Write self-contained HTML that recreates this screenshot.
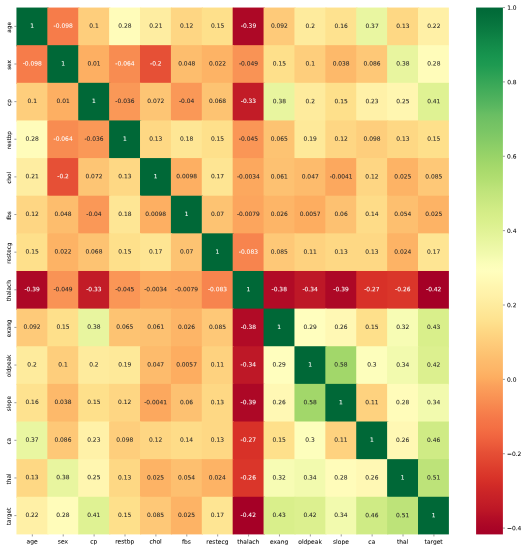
<!DOCTYPE html>
<html lang="en"><head><meta charset="utf-8"><title>Correlation heatmap</title>
<style>html,body{margin:0;padding:0;background:#fff}svg{display:block}text{text-rendering:geometricPrecision;font-family:"DejaVu Sans","Liberation Sans",sans-serif;font-size:5.95px}.a{text-anchor:middle}.w{fill:#fff;stroke:#fff}.d{fill:#262626;stroke:#262626}.t{fill:#000;stroke:#000}text{stroke-width:0.05px}.v{font-size:5.72px}</style></head><body>
<svg width="525" height="550" viewBox="0 0 525 550">
<rect width="525" height="550" fill="#fff"/>
<g>
<rect x="16.45" y="7.55" width="32.09" height="38.83" fill="#006837"/>
<rect x="47.34" y="7.55" width="32.09" height="38.83" fill="#f67c4a"/>
<rect x="78.23" y="7.55" width="32.09" height="38.83" fill="#fece7c"/>
<rect x="109.12" y="7.55" width="32.09" height="38.83" fill="#fffcba"/>
<rect x="140.01" y="7.55" width="32.09" height="38.83" fill="#feeda1"/>
<rect x="170.90" y="7.55" width="32.09" height="38.83" fill="#fed683"/>
<rect x="201.79" y="7.55" width="32.09" height="38.83" fill="#fee08b"/>
<rect x="232.67" y="7.55" width="32.09" height="38.83" fill="#ad0826"/>
<rect x="263.56" y="7.55" width="32.09" height="38.83" fill="#feca79"/>
<rect x="294.45" y="7.55" width="32.09" height="38.83" fill="#feeb9d"/>
<rect x="325.34" y="7.55" width="32.09" height="38.83" fill="#fee28f"/>
<rect x="356.23" y="7.55" width="32.09" height="38.83" fill="#e9f6a1"/>
<rect x="387.12" y="7.55" width="32.09" height="38.83" fill="#fed884"/>
<rect x="418.01" y="7.55" width="30.89" height="38.83" fill="#fff0a6"/>
<rect x="16.45" y="45.18" width="32.09" height="38.83" fill="#f67c4a"/>
<rect x="47.34" y="45.18" width="32.09" height="38.83" fill="#006837"/>
<rect x="78.23" y="45.18" width="32.09" height="38.83" fill="#fdaf62"/>
<rect x="109.12" y="45.18" width="32.09" height="38.83" fill="#f88c51"/>
<rect x="140.01" y="45.18" width="32.09" height="38.83" fill="#e65036"/>
<rect x="170.90" y="45.18" width="32.09" height="38.83" fill="#fdbd6d"/>
<rect x="201.79" y="45.18" width="32.09" height="38.83" fill="#fdb365"/>
<rect x="232.67" y="45.18" width="32.09" height="38.83" fill="#f99355"/>
<rect x="263.56" y="45.18" width="32.09" height="38.83" fill="#fee08b"/>
<rect x="294.45" y="45.18" width="32.09" height="38.83" fill="#fece7c"/>
<rect x="325.34" y="45.18" width="32.09" height="38.83" fill="#fdb96a"/>
<rect x="356.23" y="45.18" width="32.09" height="38.83" fill="#fec877"/>
<rect x="387.12" y="45.18" width="32.09" height="38.83" fill="#e8f59f"/>
<rect x="418.01" y="45.18" width="30.89" height="38.83" fill="#fffcba"/>
<rect x="16.45" y="82.81" width="32.09" height="38.83" fill="#fece7c"/>
<rect x="47.34" y="82.81" width="32.09" height="38.83" fill="#fdaf62"/>
<rect x="78.23" y="82.81" width="32.09" height="38.83" fill="#006837"/>
<rect x="109.12" y="82.81" width="32.09" height="38.83" fill="#fa9857"/>
<rect x="140.01" y="82.81" width="32.09" height="38.83" fill="#fdc574"/>
<rect x="170.90" y="82.81" width="32.09" height="38.83" fill="#fa9857"/>
<rect x="201.79" y="82.81" width="32.09" height="38.83" fill="#fdc372"/>
<rect x="232.67" y="82.81" width="32.09" height="38.83" fill="#c21c27"/>
<rect x="263.56" y="82.81" width="32.09" height="38.83" fill="#e8f59f"/>
<rect x="294.45" y="82.81" width="32.09" height="38.83" fill="#feeb9d"/>
<rect x="325.34" y="82.81" width="32.09" height="38.83" fill="#fee08b"/>
<rect x="356.23" y="82.81" width="32.09" height="38.83" fill="#fff1a8"/>
<rect x="387.12" y="82.81" width="32.09" height="38.83" fill="#fff6b0"/>
<rect x="418.01" y="82.81" width="30.89" height="38.83" fill="#dff293"/>
<rect x="16.45" y="120.45" width="32.09" height="38.83" fill="#fffcba"/>
<rect x="47.34" y="120.45" width="32.09" height="38.83" fill="#f88c51"/>
<rect x="78.23" y="120.45" width="32.09" height="38.83" fill="#fa9857"/>
<rect x="109.12" y="120.45" width="32.09" height="38.83" fill="#006837"/>
<rect x="140.01" y="120.45" width="32.09" height="38.83" fill="#fed884"/>
<rect x="170.90" y="120.45" width="32.09" height="38.83" fill="#fee695"/>
<rect x="201.79" y="120.45" width="32.09" height="38.83" fill="#fee08b"/>
<rect x="232.67" y="120.45" width="32.09" height="38.83" fill="#fa9656"/>
<rect x="263.56" y="120.45" width="32.09" height="38.83" fill="#fdc372"/>
<rect x="294.45" y="120.45" width="32.09" height="38.83" fill="#fee999"/>
<rect x="325.34" y="120.45" width="32.09" height="38.83" fill="#fed683"/>
<rect x="356.23" y="120.45" width="32.09" height="38.83" fill="#fece7c"/>
<rect x="387.12" y="120.45" width="32.09" height="38.83" fill="#fed884"/>
<rect x="418.01" y="120.45" width="30.89" height="38.83" fill="#fee08b"/>
<rect x="16.45" y="158.08" width="32.09" height="38.83" fill="#feeda1"/>
<rect x="47.34" y="158.08" width="32.09" height="38.83" fill="#e65036"/>
<rect x="78.23" y="158.08" width="32.09" height="38.83" fill="#fdc574"/>
<rect x="109.12" y="158.08" width="32.09" height="38.83" fill="#fed884"/>
<rect x="140.01" y="158.08" width="32.09" height="38.83" fill="#006837"/>
<rect x="170.90" y="158.08" width="32.09" height="38.83" fill="#fdaf62"/>
<rect x="201.79" y="158.08" width="32.09" height="38.83" fill="#fee593"/>
<rect x="232.67" y="158.08" width="32.09" height="38.83" fill="#fca85e"/>
<rect x="263.56" y="158.08" width="32.09" height="38.83" fill="#fdc171"/>
<rect x="294.45" y="158.08" width="32.09" height="38.83" fill="#fdbb6c"/>
<rect x="325.34" y="158.08" width="32.09" height="38.83" fill="#fca85e"/>
<rect x="356.23" y="158.08" width="32.09" height="38.83" fill="#fed683"/>
<rect x="387.12" y="158.08" width="32.09" height="38.83" fill="#fdb365"/>
<rect x="418.01" y="158.08" width="30.89" height="38.83" fill="#fec877"/>
<rect x="16.45" y="195.71" width="32.09" height="38.83" fill="#fed683"/>
<rect x="47.34" y="195.71" width="32.09" height="38.83" fill="#fdbd6d"/>
<rect x="78.23" y="195.71" width="32.09" height="38.83" fill="#fa9857"/>
<rect x="109.12" y="195.71" width="32.09" height="38.83" fill="#fee695"/>
<rect x="140.01" y="195.71" width="32.09" height="38.83" fill="#fdaf62"/>
<rect x="170.90" y="195.71" width="32.09" height="38.83" fill="#006837"/>
<rect x="201.79" y="195.71" width="32.09" height="38.83" fill="#fdc372"/>
<rect x="232.67" y="195.71" width="32.09" height="38.83" fill="#fca55d"/>
<rect x="263.56" y="195.71" width="32.09" height="38.83" fill="#fdb567"/>
<rect x="294.45" y="195.71" width="32.09" height="38.83" fill="#fdad60"/>
<rect x="325.34" y="195.71" width="32.09" height="38.83" fill="#fdc171"/>
<rect x="356.23" y="195.71" width="32.09" height="38.83" fill="#fedc88"/>
<rect x="387.12" y="195.71" width="32.09" height="38.83" fill="#fdbf6f"/>
<rect x="418.01" y="195.71" width="30.89" height="38.83" fill="#fdb365"/>
<rect x="16.45" y="233.34" width="32.09" height="38.83" fill="#fee08b"/>
<rect x="47.34" y="233.34" width="32.09" height="38.83" fill="#fdb365"/>
<rect x="78.23" y="233.34" width="32.09" height="38.83" fill="#fdc372"/>
<rect x="109.12" y="233.34" width="32.09" height="38.83" fill="#fee08b"/>
<rect x="140.01" y="233.34" width="32.09" height="38.83" fill="#fee593"/>
<rect x="170.90" y="233.34" width="32.09" height="38.83" fill="#fdc372"/>
<rect x="201.79" y="233.34" width="32.09" height="38.83" fill="#006837"/>
<rect x="232.67" y="233.34" width="32.09" height="38.83" fill="#f7844e"/>
<rect x="263.56" y="233.34" width="32.09" height="38.83" fill="#fec877"/>
<rect x="294.45" y="233.34" width="32.09" height="38.83" fill="#fed27f"/>
<rect x="325.34" y="233.34" width="32.09" height="38.83" fill="#fed884"/>
<rect x="356.23" y="233.34" width="32.09" height="38.83" fill="#fed884"/>
<rect x="387.12" y="233.34" width="32.09" height="38.83" fill="#fdb365"/>
<rect x="418.01" y="233.34" width="30.89" height="38.83" fill="#fee593"/>
<rect x="16.45" y="270.98" width="32.09" height="38.83" fill="#ad0826"/>
<rect x="47.34" y="270.98" width="32.09" height="38.83" fill="#f99355"/>
<rect x="78.23" y="270.98" width="32.09" height="38.83" fill="#c21c27"/>
<rect x="109.12" y="270.98" width="32.09" height="38.83" fill="#fa9656"/>
<rect x="140.01" y="270.98" width="32.09" height="38.83" fill="#fca85e"/>
<rect x="170.90" y="270.98" width="32.09" height="38.83" fill="#fca55d"/>
<rect x="201.79" y="270.98" width="32.09" height="38.83" fill="#f7844e"/>
<rect x="232.67" y="270.98" width="32.09" height="38.83" fill="#006837"/>
<rect x="263.56" y="270.98" width="32.09" height="38.83" fill="#b10b26"/>
<rect x="294.45" y="270.98" width="32.09" height="38.83" fill="#be1827"/>
<rect x="325.34" y="270.98" width="32.09" height="38.83" fill="#ad0826"/>
<rect x="356.23" y="270.98" width="32.09" height="38.83" fill="#d83128"/>
<rect x="387.12" y="270.98" width="32.09" height="38.83" fill="#da362a"/>
<rect x="418.01" y="270.98" width="30.89" height="38.83" fill="#a50026"/>
<rect x="16.45" y="308.61" width="32.09" height="38.83" fill="#feca79"/>
<rect x="47.34" y="308.61" width="32.09" height="38.83" fill="#fee08b"/>
<rect x="78.23" y="308.61" width="32.09" height="38.83" fill="#e8f59f"/>
<rect x="109.12" y="308.61" width="32.09" height="38.83" fill="#fdc372"/>
<rect x="140.01" y="308.61" width="32.09" height="38.83" fill="#fdc171"/>
<rect x="170.90" y="308.61" width="32.09" height="38.83" fill="#fdb567"/>
<rect x="201.79" y="308.61" width="32.09" height="38.83" fill="#fec877"/>
<rect x="232.67" y="308.61" width="32.09" height="38.83" fill="#b10b26"/>
<rect x="263.56" y="308.61" width="32.09" height="38.83" fill="#006837"/>
<rect x="294.45" y="308.61" width="32.09" height="38.83" fill="#fffebe"/>
<rect x="325.34" y="308.61" width="32.09" height="38.83" fill="#fff8b4"/>
<rect x="356.23" y="308.61" width="32.09" height="38.83" fill="#fee08b"/>
<rect x="387.12" y="308.61" width="32.09" height="38.83" fill="#f7fcb4"/>
<rect x="418.01" y="308.61" width="30.89" height="38.83" fill="#d9ef8b"/>
<rect x="16.45" y="346.24" width="32.09" height="38.83" fill="#feeb9d"/>
<rect x="47.34" y="346.24" width="32.09" height="38.83" fill="#fece7c"/>
<rect x="78.23" y="346.24" width="32.09" height="38.83" fill="#feeb9d"/>
<rect x="109.12" y="346.24" width="32.09" height="38.83" fill="#fee999"/>
<rect x="140.01" y="346.24" width="32.09" height="38.83" fill="#fdbb6c"/>
<rect x="170.90" y="346.24" width="32.09" height="38.83" fill="#fdad60"/>
<rect x="201.79" y="346.24" width="32.09" height="38.83" fill="#fed27f"/>
<rect x="232.67" y="346.24" width="32.09" height="38.83" fill="#be1827"/>
<rect x="263.56" y="346.24" width="32.09" height="38.83" fill="#fffebe"/>
<rect x="294.45" y="346.24" width="32.09" height="38.83" fill="#006837"/>
<rect x="325.34" y="346.24" width="32.09" height="38.83" fill="#a2d76a"/>
<rect x="356.23" y="346.24" width="32.09" height="38.83" fill="#fdfebc"/>
<rect x="387.12" y="346.24" width="32.09" height="38.83" fill="#f2faae"/>
<rect x="418.01" y="346.24" width="30.89" height="38.83" fill="#dcf08f"/>
<rect x="16.45" y="383.87" width="32.09" height="38.83" fill="#fee28f"/>
<rect x="47.34" y="383.87" width="32.09" height="38.83" fill="#fdb96a"/>
<rect x="78.23" y="383.87" width="32.09" height="38.83" fill="#fee08b"/>
<rect x="109.12" y="383.87" width="32.09" height="38.83" fill="#fed683"/>
<rect x="140.01" y="383.87" width="32.09" height="38.83" fill="#fca85e"/>
<rect x="170.90" y="383.87" width="32.09" height="38.83" fill="#fdc171"/>
<rect x="201.79" y="383.87" width="32.09" height="38.83" fill="#fed884"/>
<rect x="232.67" y="383.87" width="32.09" height="38.83" fill="#ad0826"/>
<rect x="263.56" y="383.87" width="32.09" height="38.83" fill="#fff8b4"/>
<rect x="294.45" y="383.87" width="32.09" height="38.83" fill="#a2d76a"/>
<rect x="325.34" y="383.87" width="32.09" height="38.83" fill="#006837"/>
<rect x="356.23" y="383.87" width="32.09" height="38.83" fill="#fed27f"/>
<rect x="387.12" y="383.87" width="32.09" height="38.83" fill="#fffcba"/>
<rect x="418.01" y="383.87" width="30.89" height="38.83" fill="#f2faae"/>
<rect x="16.45" y="421.50" width="32.09" height="38.83" fill="#e9f6a1"/>
<rect x="47.34" y="421.50" width="32.09" height="38.83" fill="#fec877"/>
<rect x="78.23" y="421.50" width="32.09" height="38.83" fill="#fff1a8"/>
<rect x="109.12" y="421.50" width="32.09" height="38.83" fill="#fece7c"/>
<rect x="140.01" y="421.50" width="32.09" height="38.83" fill="#fed683"/>
<rect x="170.90" y="421.50" width="32.09" height="38.83" fill="#fedc88"/>
<rect x="201.79" y="421.50" width="32.09" height="38.83" fill="#fed884"/>
<rect x="232.67" y="421.50" width="32.09" height="38.83" fill="#d83128"/>
<rect x="263.56" y="421.50" width="32.09" height="38.83" fill="#fee08b"/>
<rect x="294.45" y="421.50" width="32.09" height="38.83" fill="#fdfebc"/>
<rect x="325.34" y="421.50" width="32.09" height="38.83" fill="#fed27f"/>
<rect x="356.23" y="421.50" width="32.09" height="38.83" fill="#006837"/>
<rect x="387.12" y="421.50" width="32.09" height="38.83" fill="#fff8b4"/>
<rect x="418.01" y="421.50" width="30.89" height="38.83" fill="#cfeb85"/>
<rect x="16.45" y="459.14" width="32.09" height="38.83" fill="#fed884"/>
<rect x="47.34" y="459.14" width="32.09" height="38.83" fill="#e8f59f"/>
<rect x="78.23" y="459.14" width="32.09" height="38.83" fill="#fff6b0"/>
<rect x="109.12" y="459.14" width="32.09" height="38.83" fill="#fed884"/>
<rect x="140.01" y="459.14" width="32.09" height="38.83" fill="#fdb365"/>
<rect x="170.90" y="459.14" width="32.09" height="38.83" fill="#fdbf6f"/>
<rect x="201.79" y="459.14" width="32.09" height="38.83" fill="#fdb365"/>
<rect x="232.67" y="459.14" width="32.09" height="38.83" fill="#da362a"/>
<rect x="263.56" y="459.14" width="32.09" height="38.83" fill="#f7fcb4"/>
<rect x="294.45" y="459.14" width="32.09" height="38.83" fill="#f2faae"/>
<rect x="325.34" y="459.14" width="32.09" height="38.83" fill="#fffcba"/>
<rect x="356.23" y="459.14" width="32.09" height="38.83" fill="#fff8b4"/>
<rect x="387.12" y="459.14" width="32.09" height="38.83" fill="#006837"/>
<rect x="418.01" y="459.14" width="30.89" height="38.83" fill="#bde379"/>
<rect x="16.45" y="496.77" width="32.09" height="37.63" fill="#fff0a6"/>
<rect x="47.34" y="496.77" width="32.09" height="37.63" fill="#fffcba"/>
<rect x="78.23" y="496.77" width="32.09" height="37.63" fill="#dff293"/>
<rect x="109.12" y="496.77" width="32.09" height="37.63" fill="#fee08b"/>
<rect x="140.01" y="496.77" width="32.09" height="37.63" fill="#fec877"/>
<rect x="170.90" y="496.77" width="32.09" height="37.63" fill="#fdb365"/>
<rect x="201.79" y="496.77" width="32.09" height="37.63" fill="#fee593"/>
<rect x="232.67" y="496.77" width="32.09" height="37.63" fill="#a50026"/>
<rect x="263.56" y="496.77" width="32.09" height="37.63" fill="#d9ef8b"/>
<rect x="294.45" y="496.77" width="32.09" height="37.63" fill="#dcf08f"/>
<rect x="325.34" y="496.77" width="32.09" height="37.63" fill="#f2faae"/>
<rect x="356.23" y="496.77" width="32.09" height="37.63" fill="#cfeb85"/>
<rect x="387.12" y="496.77" width="32.09" height="37.63" fill="#bde379"/>
<rect x="418.01" y="496.77" width="30.89" height="37.63" fill="#006837"/>
</g>
<g class="a" transform="rotate(0.03 262 275)">
<text class="w" x="32.14" y="25.97" dy="0.32em">1</text>
<text class="w" x="63.03" y="25.97" dy="0.32em">-0.098</text>
<text class="d" x="93.92" y="25.97" dy="0.32em">0.1</text>
<text class="d" x="124.81" y="25.97" dy="0.32em">0.28</text>
<text class="d" x="155.70" y="25.97" dy="0.32em">0.21</text>
<text class="d" x="186.59" y="25.97" dy="0.32em">0.12</text>
<text class="d" x="217.48" y="25.97" dy="0.32em">0.15</text>
<text class="w" x="248.37" y="25.97" dy="0.32em">-0.39</text>
<text class="d" x="279.26" y="25.97" dy="0.32em">0.092</text>
<text class="d" x="310.15" y="25.97" dy="0.32em">0.2</text>
<text class="d" x="341.04" y="25.97" dy="0.32em">0.16</text>
<text class="d" x="371.93" y="25.97" dy="0.32em">0.37</text>
<text class="d" x="402.82" y="25.97" dy="0.32em">0.13</text>
<text class="d" x="433.71" y="25.97" dy="0.32em">0.22</text>
<text class="w" x="32.14" y="63.60" dy="0.32em">-0.098</text>
<text class="w" x="63.03" y="63.60" dy="0.32em">1</text>
<text class="d" x="93.92" y="63.60" dy="0.32em">0.01</text>
<text class="w" x="124.81" y="63.60" dy="0.32em">-0.064</text>
<text class="w" x="155.70" y="63.60" dy="0.32em">-0.2</text>
<text class="d" x="186.59" y="63.60" dy="0.32em">0.048</text>
<text class="d" x="217.48" y="63.60" dy="0.32em">0.022</text>
<text class="d" x="248.37" y="63.60" dy="0.32em">-0.049</text>
<text class="d" x="279.26" y="63.60" dy="0.32em">0.15</text>
<text class="d" x="310.15" y="63.60" dy="0.32em">0.1</text>
<text class="d" x="341.04" y="63.60" dy="0.32em">0.038</text>
<text class="d" x="371.93" y="63.60" dy="0.32em">0.086</text>
<text class="d" x="402.82" y="63.60" dy="0.32em">0.38</text>
<text class="d" x="433.71" y="63.60" dy="0.32em">0.28</text>
<text class="d" x="32.14" y="101.23" dy="0.32em">0.1</text>
<text class="d" x="63.03" y="101.23" dy="0.32em">0.01</text>
<text class="w" x="93.92" y="101.23" dy="0.32em">1</text>
<text class="d" x="124.81" y="101.23" dy="0.32em">-0.036</text>
<text class="d" x="155.70" y="101.23" dy="0.32em">0.072</text>
<text class="d" x="186.59" y="101.23" dy="0.32em">-0.04</text>
<text class="d" x="217.48" y="101.23" dy="0.32em">0.068</text>
<text class="w" x="248.37" y="101.23" dy="0.32em">-0.33</text>
<text class="d" x="279.26" y="101.23" dy="0.32em">0.38</text>
<text class="d" x="310.15" y="101.23" dy="0.32em">0.2</text>
<text class="d" x="341.04" y="101.23" dy="0.32em">0.15</text>
<text class="d" x="371.93" y="101.23" dy="0.32em">0.23</text>
<text class="d" x="402.82" y="101.23" dy="0.32em">0.25</text>
<text class="d" x="433.71" y="101.23" dy="0.32em">0.41</text>
<text class="d" x="32.14" y="138.86" dy="0.32em">0.28</text>
<text class="w" x="63.03" y="138.86" dy="0.32em">-0.064</text>
<text class="d" x="93.92" y="138.86" dy="0.32em">-0.036</text>
<text class="w" x="124.81" y="138.86" dy="0.32em">1</text>
<text class="d" x="155.70" y="138.86" dy="0.32em">0.13</text>
<text class="d" x="186.59" y="138.86" dy="0.32em">0.18</text>
<text class="d" x="217.48" y="138.86" dy="0.32em">0.15</text>
<text class="d" x="248.37" y="138.86" dy="0.32em">-0.045</text>
<text class="d" x="279.26" y="138.86" dy="0.32em">0.065</text>
<text class="d" x="310.15" y="138.86" dy="0.32em">0.19</text>
<text class="d" x="341.04" y="138.86" dy="0.32em">0.12</text>
<text class="d" x="371.93" y="138.86" dy="0.32em">0.098</text>
<text class="d" x="402.82" y="138.86" dy="0.32em">0.13</text>
<text class="d" x="433.71" y="138.86" dy="0.32em">0.15</text>
<text class="d" x="32.14" y="176.49" dy="0.32em">0.21</text>
<text class="w" x="63.03" y="176.49" dy="0.32em">-0.2</text>
<text class="d" x="93.92" y="176.49" dy="0.32em">0.072</text>
<text class="d" x="124.81" y="176.49" dy="0.32em">0.13</text>
<text class="w" x="155.70" y="176.49" dy="0.32em">1</text>
<text class="d" x="186.59" y="176.49" dy="0.32em">0.0098</text>
<text class="d" x="217.48" y="176.49" dy="0.32em">0.17</text>
<text class="d" x="248.37" y="176.49" dy="0.32em">-0.0034</text>
<text class="d" x="279.26" y="176.49" dy="0.32em">0.061</text>
<text class="d" x="310.15" y="176.49" dy="0.32em">0.047</text>
<text class="d" x="341.04" y="176.49" dy="0.32em">-0.0041</text>
<text class="d" x="371.93" y="176.49" dy="0.32em">0.12</text>
<text class="d" x="402.82" y="176.49" dy="0.32em">0.025</text>
<text class="d" x="433.71" y="176.49" dy="0.32em">0.085</text>
<text class="d" x="32.14" y="214.13" dy="0.32em">0.12</text>
<text class="d" x="63.03" y="214.13" dy="0.32em">0.048</text>
<text class="d" x="93.92" y="214.13" dy="0.32em">-0.04</text>
<text class="d" x="124.81" y="214.13" dy="0.32em">0.18</text>
<text class="d" x="155.70" y="214.13" dy="0.32em">0.0098</text>
<text class="w" x="186.59" y="214.13" dy="0.32em">1</text>
<text class="d" x="217.48" y="214.13" dy="0.32em">0.07</text>
<text class="d" x="248.37" y="214.13" dy="0.32em">-0.0079</text>
<text class="d" x="279.26" y="214.13" dy="0.32em">0.026</text>
<text class="d" x="310.15" y="214.13" dy="0.32em">0.0057</text>
<text class="d" x="341.04" y="214.13" dy="0.32em">0.06</text>
<text class="d" x="371.93" y="214.13" dy="0.32em">0.14</text>
<text class="d" x="402.82" y="214.13" dy="0.32em">0.054</text>
<text class="d" x="433.71" y="214.13" dy="0.32em">0.025</text>
<text class="d" x="32.14" y="251.76" dy="0.32em">0.15</text>
<text class="d" x="63.03" y="251.76" dy="0.32em">0.022</text>
<text class="d" x="93.92" y="251.76" dy="0.32em">0.068</text>
<text class="d" x="124.81" y="251.76" dy="0.32em">0.15</text>
<text class="d" x="155.70" y="251.76" dy="0.32em">0.17</text>
<text class="d" x="186.59" y="251.76" dy="0.32em">0.07</text>
<text class="w" x="217.48" y="251.76" dy="0.32em">1</text>
<text class="w" x="248.37" y="251.76" dy="0.32em">-0.083</text>
<text class="d" x="279.26" y="251.76" dy="0.32em">0.085</text>
<text class="d" x="310.15" y="251.76" dy="0.32em">0.11</text>
<text class="d" x="341.04" y="251.76" dy="0.32em">0.13</text>
<text class="d" x="371.93" y="251.76" dy="0.32em">0.13</text>
<text class="d" x="402.82" y="251.76" dy="0.32em">0.024</text>
<text class="d" x="433.71" y="251.76" dy="0.32em">0.17</text>
<text class="w" x="32.14" y="289.39" dy="0.32em">-0.39</text>
<text class="d" x="63.03" y="289.39" dy="0.32em">-0.049</text>
<text class="w" x="93.92" y="289.39" dy="0.32em">-0.33</text>
<text class="d" x="124.81" y="289.39" dy="0.32em">-0.045</text>
<text class="d" x="155.70" y="289.39" dy="0.32em">-0.0034</text>
<text class="d" x="186.59" y="289.39" dy="0.32em">-0.0079</text>
<text class="w" x="217.48" y="289.39" dy="0.32em">-0.083</text>
<text class="w" x="248.37" y="289.39" dy="0.32em">1</text>
<text class="w" x="279.26" y="289.39" dy="0.32em">-0.38</text>
<text class="w" x="310.15" y="289.39" dy="0.32em">-0.34</text>
<text class="w" x="341.04" y="289.39" dy="0.32em">-0.39</text>
<text class="w" x="371.93" y="289.39" dy="0.32em">-0.27</text>
<text class="w" x="402.82" y="289.39" dy="0.32em">-0.26</text>
<text class="w" x="433.71" y="289.39" dy="0.32em">-0.42</text>
<text class="d" x="32.14" y="327.02" dy="0.32em">0.092</text>
<text class="d" x="63.03" y="327.02" dy="0.32em">0.15</text>
<text class="d" x="93.92" y="327.02" dy="0.32em">0.38</text>
<text class="d" x="124.81" y="327.02" dy="0.32em">0.065</text>
<text class="d" x="155.70" y="327.02" dy="0.32em">0.061</text>
<text class="d" x="186.59" y="327.02" dy="0.32em">0.026</text>
<text class="d" x="217.48" y="327.02" dy="0.32em">0.085</text>
<text class="w" x="248.37" y="327.02" dy="0.32em">-0.38</text>
<text class="w" x="279.26" y="327.02" dy="0.32em">1</text>
<text class="d" x="310.15" y="327.02" dy="0.32em">0.29</text>
<text class="d" x="341.04" y="327.02" dy="0.32em">0.26</text>
<text class="d" x="371.93" y="327.02" dy="0.32em">0.15</text>
<text class="d" x="402.82" y="327.02" dy="0.32em">0.32</text>
<text class="d" x="433.71" y="327.02" dy="0.32em">0.43</text>
<text class="d" x="32.14" y="364.66" dy="0.32em">0.2</text>
<text class="d" x="63.03" y="364.66" dy="0.32em">0.1</text>
<text class="d" x="93.92" y="364.66" dy="0.32em">0.2</text>
<text class="d" x="124.81" y="364.66" dy="0.32em">0.19</text>
<text class="d" x="155.70" y="364.66" dy="0.32em">0.047</text>
<text class="d" x="186.59" y="364.66" dy="0.32em">0.0057</text>
<text class="d" x="217.48" y="364.66" dy="0.32em">0.11</text>
<text class="w" x="248.37" y="364.66" dy="0.32em">-0.34</text>
<text class="d" x="279.26" y="364.66" dy="0.32em">0.29</text>
<text class="w" x="310.15" y="364.66" dy="0.32em">1</text>
<text class="d" x="341.04" y="364.66" dy="0.32em">0.58</text>
<text class="d" x="371.93" y="364.66" dy="0.32em">0.3</text>
<text class="d" x="402.82" y="364.66" dy="0.32em">0.34</text>
<text class="d" x="433.71" y="364.66" dy="0.32em">0.42</text>
<text class="d" x="32.14" y="402.29" dy="0.32em">0.16</text>
<text class="d" x="63.03" y="402.29" dy="0.32em">0.038</text>
<text class="d" x="93.92" y="402.29" dy="0.32em">0.15</text>
<text class="d" x="124.81" y="402.29" dy="0.32em">0.12</text>
<text class="d" x="155.70" y="402.29" dy="0.32em">-0.0041</text>
<text class="d" x="186.59" y="402.29" dy="0.32em">0.06</text>
<text class="d" x="217.48" y="402.29" dy="0.32em">0.13</text>
<text class="w" x="248.37" y="402.29" dy="0.32em">-0.39</text>
<text class="d" x="279.26" y="402.29" dy="0.32em">0.26</text>
<text class="d" x="310.15" y="402.29" dy="0.32em">0.58</text>
<text class="w" x="341.04" y="402.29" dy="0.32em">1</text>
<text class="d" x="371.93" y="402.29" dy="0.32em">0.11</text>
<text class="d" x="402.82" y="402.29" dy="0.32em">0.28</text>
<text class="d" x="433.71" y="402.29" dy="0.32em">0.34</text>
<text class="d" x="32.14" y="439.92" dy="0.32em">0.37</text>
<text class="d" x="63.03" y="439.92" dy="0.32em">0.086</text>
<text class="d" x="93.92" y="439.92" dy="0.32em">0.23</text>
<text class="d" x="124.81" y="439.92" dy="0.32em">0.098</text>
<text class="d" x="155.70" y="439.92" dy="0.32em">0.12</text>
<text class="d" x="186.59" y="439.92" dy="0.32em">0.14</text>
<text class="d" x="217.48" y="439.92" dy="0.32em">0.13</text>
<text class="w" x="248.37" y="439.92" dy="0.32em">-0.27</text>
<text class="d" x="279.26" y="439.92" dy="0.32em">0.15</text>
<text class="d" x="310.15" y="439.92" dy="0.32em">0.3</text>
<text class="d" x="341.04" y="439.92" dy="0.32em">0.11</text>
<text class="w" x="371.93" y="439.92" dy="0.32em">1</text>
<text class="d" x="402.82" y="439.92" dy="0.32em">0.26</text>
<text class="d" x="433.71" y="439.92" dy="0.32em">0.46</text>
<text class="d" x="32.14" y="477.55" dy="0.32em">0.13</text>
<text class="d" x="63.03" y="477.55" dy="0.32em">0.38</text>
<text class="d" x="93.92" y="477.55" dy="0.32em">0.25</text>
<text class="d" x="124.81" y="477.55" dy="0.32em">0.13</text>
<text class="d" x="155.70" y="477.55" dy="0.32em">0.025</text>
<text class="d" x="186.59" y="477.55" dy="0.32em">0.054</text>
<text class="d" x="217.48" y="477.55" dy="0.32em">0.024</text>
<text class="w" x="248.37" y="477.55" dy="0.32em">-0.26</text>
<text class="d" x="279.26" y="477.55" dy="0.32em">0.32</text>
<text class="d" x="310.15" y="477.55" dy="0.32em">0.34</text>
<text class="d" x="341.04" y="477.55" dy="0.32em">0.28</text>
<text class="d" x="371.93" y="477.55" dy="0.32em">0.26</text>
<text class="w" x="402.82" y="477.55" dy="0.32em">1</text>
<text class="d" x="433.71" y="477.55" dy="0.32em">0.51</text>
<text class="d" x="32.14" y="515.18" dy="0.32em">0.22</text>
<text class="d" x="63.03" y="515.18" dy="0.32em">0.28</text>
<text class="d" x="93.92" y="515.18" dy="0.32em">0.41</text>
<text class="d" x="124.81" y="515.18" dy="0.32em">0.15</text>
<text class="d" x="155.70" y="515.18" dy="0.32em">0.085</text>
<text class="d" x="186.59" y="515.18" dy="0.32em">0.025</text>
<text class="d" x="217.48" y="515.18" dy="0.32em">0.17</text>
<text class="w" x="248.37" y="515.18" dy="0.32em">-0.42</text>
<text class="d" x="279.26" y="515.18" dy="0.32em">0.43</text>
<text class="d" x="310.15" y="515.18" dy="0.32em">0.42</text>
<text class="d" x="341.04" y="515.18" dy="0.32em">0.34</text>
<text class="d" x="371.93" y="515.18" dy="0.32em">0.46</text>
<text class="d" x="402.82" y="515.18" dy="0.32em">0.51</text>
<text class="w" x="433.71" y="515.18" dy="0.32em">1</text>
</g>
<g stroke="#222" stroke-width="0.45">
<line x1="32.34" y1="534.40" x2="32.34" y2="536.48"/>
<line x1="14.37" y1="26.37" x2="16.45" y2="26.37"/>
<line x1="63.23" y1="534.40" x2="63.23" y2="536.48"/>
<line x1="14.37" y1="64.00" x2="16.45" y2="64.00"/>
<line x1="94.12" y1="534.40" x2="94.12" y2="536.48"/>
<line x1="14.37" y1="101.63" x2="16.45" y2="101.63"/>
<line x1="125.01" y1="534.40" x2="125.01" y2="536.48"/>
<line x1="14.37" y1="139.26" x2="16.45" y2="139.26"/>
<line x1="155.90" y1="534.40" x2="155.90" y2="536.48"/>
<line x1="14.37" y1="176.89" x2="16.45" y2="176.89"/>
<line x1="186.79" y1="534.40" x2="186.79" y2="536.48"/>
<line x1="14.37" y1="214.53" x2="16.45" y2="214.53"/>
<line x1="217.68" y1="534.40" x2="217.68" y2="536.48"/>
<line x1="14.37" y1="252.16" x2="16.45" y2="252.16"/>
<line x1="248.57" y1="534.40" x2="248.57" y2="536.48"/>
<line x1="14.37" y1="289.79" x2="16.45" y2="289.79"/>
<line x1="279.46" y1="534.40" x2="279.46" y2="536.48"/>
<line x1="14.37" y1="327.42" x2="16.45" y2="327.42"/>
<line x1="310.35" y1="534.40" x2="310.35" y2="536.48"/>
<line x1="14.37" y1="365.06" x2="16.45" y2="365.06"/>
<line x1="341.24" y1="534.40" x2="341.24" y2="536.48"/>
<line x1="14.37" y1="402.69" x2="16.45" y2="402.69"/>
<line x1="372.13" y1="534.40" x2="372.13" y2="536.48"/>
<line x1="14.37" y1="440.32" x2="16.45" y2="440.32"/>
<line x1="403.02" y1="534.40" x2="403.02" y2="536.48"/>
<line x1="14.37" y1="477.95" x2="16.45" y2="477.95"/>
<line x1="433.91" y1="534.40" x2="433.91" y2="536.48"/>
<line x1="14.37" y1="515.58" x2="16.45" y2="515.58"/>
</g>
<g class="a t" transform="rotate(0.03 262 275)">
<text x="32.19" y="543.68">age</text>
<text x="63.08" y="543.68">sex</text>
<text x="93.97" y="543.68">cp</text>
<text x="124.86" y="543.68">restbp</text>
<text x="155.75" y="543.68">chol</text>
<text x="186.64" y="543.68">fbs</text>
<text x="217.53" y="543.68">restecg</text>
<text x="248.42" y="543.68">thalach</text>
<text x="279.31" y="543.68">exang</text>
<text x="310.20" y="543.68">oldpeak</text>
<text x="341.09" y="543.68">slope</text>
<text x="371.98" y="543.68">ca</text>
<text x="402.87" y="543.68">thal</text>
<text x="433.76" y="543.68">target</text>
<text class="v" transform="translate(10.86 27.47) rotate(-90)">age</text>
<text class="v" transform="translate(10.86 65.10) rotate(-90)">sex</text>
<text class="v" transform="translate(10.86 102.73) rotate(-90)">cp</text>
<text class="v" transform="translate(10.86 140.36) rotate(-90)">restbp</text>
<text class="v" transform="translate(10.86 177.99) rotate(-90)">chol</text>
<text class="v" transform="translate(10.86 215.63) rotate(-90)">fbs</text>
<text class="v" transform="translate(10.86 253.26) rotate(-90)">restecg</text>
<text class="v" transform="translate(10.86 290.89) rotate(-90)">thalach</text>
<text class="v" transform="translate(10.86 328.52) rotate(-90)">exang</text>
<text class="v" transform="translate(10.86 366.16) rotate(-90)">oldpeak</text>
<text class="v" transform="translate(10.86 403.79) rotate(-90)">slope</text>
<text class="v" transform="translate(10.86 441.42) rotate(-90)">ca</text>
<text class="v" transform="translate(10.86 479.05) rotate(-90)">thal</text>
<text class="v" transform="translate(10.86 516.68) rotate(-90)">target</text>
</g>
<defs><linearGradient id="cb" x1="0" y1="0" x2="0" y2="1"><stop offset="0.0000" stop-color="#006837"/><stop offset="0.0156" stop-color="#036e3a"/><stop offset="0.0312" stop-color="#07753e"/><stop offset="0.0469" stop-color="#0b7d42"/><stop offset="0.0625" stop-color="#108647"/><stop offset="0.0781" stop-color="#148e4b"/><stop offset="0.0938" stop-color="#18954f"/><stop offset="0.1094" stop-color="#1e9a51"/><stop offset="0.1250" stop-color="#2aa054"/><stop offset="0.1406" stop-color="#36a657"/><stop offset="0.1562" stop-color="#42ac5a"/><stop offset="0.1719" stop-color="#4eb15d"/><stop offset="0.1875" stop-color="#5ab760"/><stop offset="0.2031" stop-color="#69be63"/><stop offset="0.2188" stop-color="#73c264"/><stop offset="0.2344" stop-color="#7ac665"/><stop offset="0.2500" stop-color="#84ca66"/><stop offset="0.2656" stop-color="#8ecf67"/><stop offset="0.2812" stop-color="#98d368"/><stop offset="0.2969" stop-color="#a2d76a"/><stop offset="0.3125" stop-color="#abdb6d"/><stop offset="0.3281" stop-color="#b3df72"/><stop offset="0.3438" stop-color="#bde379"/><stop offset="0.3594" stop-color="#c5e67e"/><stop offset="0.3750" stop-color="#cdea83"/><stop offset="0.3906" stop-color="#d5ed88"/><stop offset="0.4062" stop-color="#daf08d"/><stop offset="0.4219" stop-color="#e0f295"/><stop offset="0.4375" stop-color="#e6f59d"/><stop offset="0.4531" stop-color="#ecf7a6"/><stop offset="0.4688" stop-color="#f2faae"/><stop offset="0.4844" stop-color="#fafdb8"/><stop offset="0.5000" stop-color="#fffebe"/><stop offset="0.5156" stop-color="#fffab6"/><stop offset="0.5312" stop-color="#fff5ae"/><stop offset="0.5469" stop-color="#fff1a8"/><stop offset="0.5625" stop-color="#feec9f"/><stop offset="0.5781" stop-color="#fee797"/><stop offset="0.5938" stop-color="#fee28f"/><stop offset="0.6094" stop-color="#feda86"/><stop offset="0.6250" stop-color="#fed27f"/><stop offset="0.6406" stop-color="#feca79"/><stop offset="0.6562" stop-color="#fdc372"/><stop offset="0.6719" stop-color="#fdbb6c"/><stop offset="0.6875" stop-color="#fdb567"/><stop offset="0.7031" stop-color="#fdad60"/><stop offset="0.7188" stop-color="#fba05b"/><stop offset="0.7344" stop-color="#fa9656"/><stop offset="0.7500" stop-color="#f88c51"/><stop offset="0.7656" stop-color="#f7814c"/><stop offset="0.7812" stop-color="#f57748"/><stop offset="0.7969" stop-color="#f47044"/><stop offset="0.8125" stop-color="#f16640"/><stop offset="0.8281" stop-color="#ec5c3b"/><stop offset="0.8438" stop-color="#e65036"/><stop offset="0.8594" stop-color="#e24731"/><stop offset="0.8750" stop-color="#dd3d2d"/><stop offset="0.8906" stop-color="#d93429"/><stop offset="0.9062" stop-color="#d22b27"/><stop offset="0.9219" stop-color="#ca2427"/><stop offset="0.9375" stop-color="#c41e27"/><stop offset="0.9531" stop-color="#bd1726"/><stop offset="0.9688" stop-color="#b30d26"/><stop offset="0.9844" stop-color="#ab0626"/><stop offset="1.0000" stop-color="#a50026"/></linearGradient></defs>
<rect x="476.10" y="7.55" width="26.80" height="526.85" fill="url(#cb)"/>
<g stroke="#222" stroke-width="0.45">
<line x1="502.90" y1="7.55" x2="504.98" y2="7.55"/>
<line x1="502.90" y1="81.91" x2="504.98" y2="81.91"/>
<line x1="502.90" y1="156.27" x2="504.98" y2="156.27"/>
<line x1="502.90" y1="230.63" x2="504.98" y2="230.63"/>
<line x1="502.90" y1="305.00" x2="504.98" y2="305.00"/>
<line x1="502.90" y1="379.36" x2="504.98" y2="379.36"/>
<line x1="502.90" y1="453.72" x2="504.98" y2="453.72"/>
<line x1="502.90" y1="528.08" x2="504.98" y2="528.08"/>
</g><g class="t" transform="rotate(0.03 262 275)">
<text x="507.06" y="7.55" dy="0.36em">1.0</text>
<text x="507.06" y="81.91" dy="0.36em">0.8</text>
<text x="507.06" y="156.27" dy="0.36em">0.6</text>
<text x="507.06" y="230.63" dy="0.36em">0.4</text>
<text x="507.06" y="305.00" dy="0.36em">0.2</text>
<text x="507.06" y="379.36" dy="0.36em">0.0</text>
<text x="507.06" y="453.72" dy="0.36em">−0.2</text>
<text x="507.06" y="528.08" dy="0.36em">−0.4</text>
</g>
</svg></body></html>
